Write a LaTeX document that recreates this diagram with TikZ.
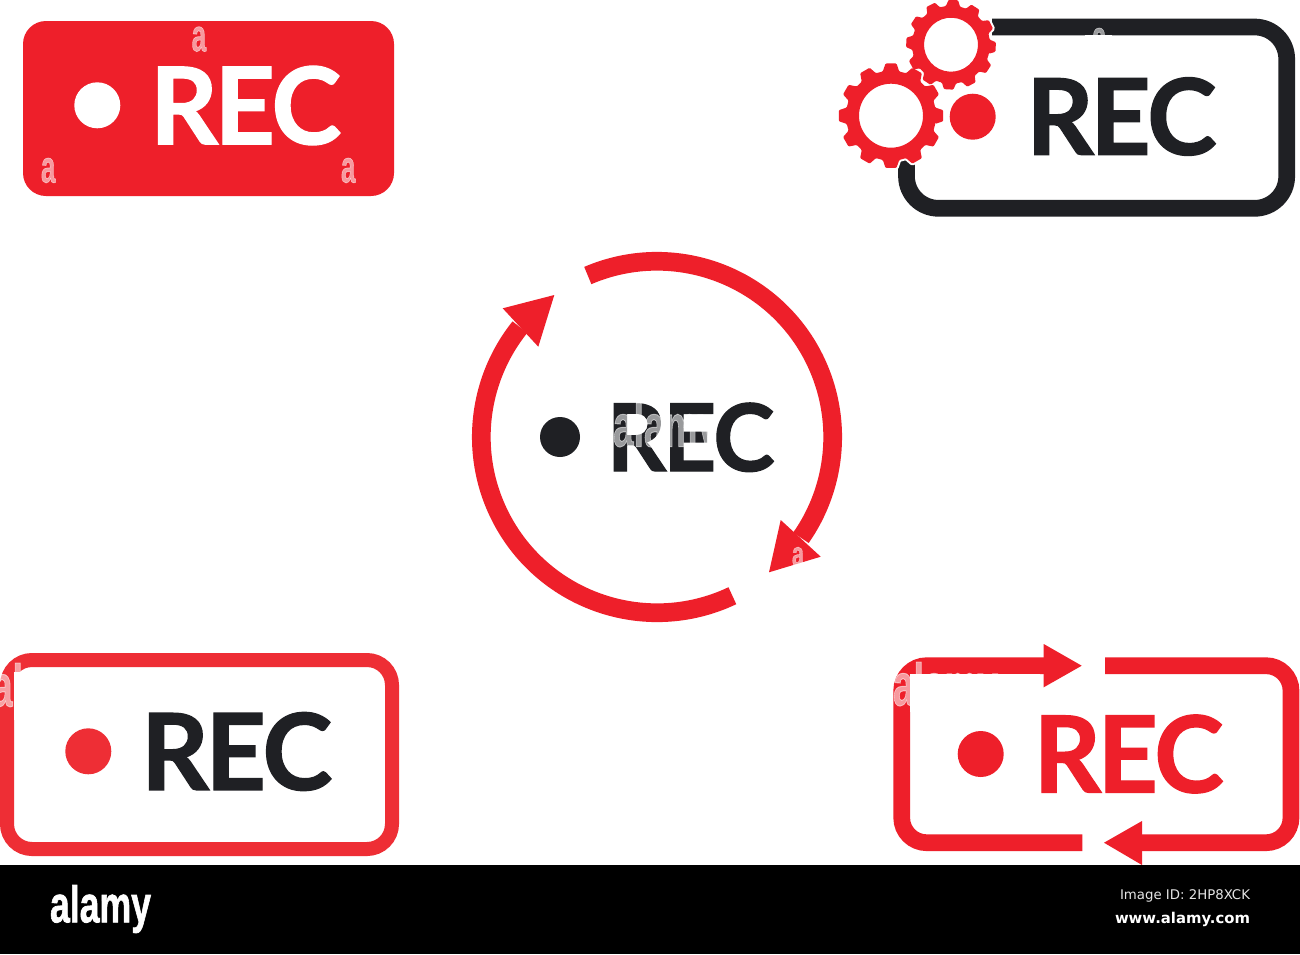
\documentclass[tikz,border=0pt]{standalone}
\usepackage{fontspec}
\usepackage{graphicx}
\newfontfamily\recfont{Lato}[BoldFeatures={FakeBold=1.2}]
\newfontfamily\wmfont{Liberation Sans}[BoldFeatures={FakeBold=1.5}]
\newfontfamily\idfont{DejaVu Sans}
\definecolor{recred}{HTML}{EE1F2A}
\definecolor{recred2}{HTML}{EE2E35}
\definecolor{recdark}{HTML}{1F2024}
\newcommand{\recword}[2]{\resizebox*{#1pt}{#2pt}{\recfont\bfseries\kern-.055em R\kern-.035em E\kern-.035em C\kern-.005em}}
\newcommand{\wmword}[3]{\resizebox*{#1pt}{#2pt}{\wmfont\bfseries #3}}
\newcommand{\gearshape}[7]{% cx cy root outer hole rot style
  \path[#7,shift={(#1,#2)},rotate=#6,rounded corners=1pt,even odd rule]
    (-10.5:#3)
    \foreach \t in {0,30,...,330}{
      -- (\t-10.5:#3) -- (\t-6:#4) -- (\t+6:#4) -- (\t+10.5:#3)
    } -- cycle (0,0) circle[radius=#5];}
\tikzset{
  x=1pt,y=1pt,
  txt/.style={inner sep=0pt,outer sep=0pt},
  frame/.style={line width=16.7pt,line cap=butt},
  wm/.style={txt,anchor=north west,text=white,text opacity=.55},
}
\begin{document}
\begin{tikzpicture}
\useasboundingbox (0,-954) rectangle (1300,0);
\fill[white] (0,-954) rectangle (1300,0);
% top-left
\fill[recred,rounded corners=23pt] (23,-21) rectangle (394,-196);
\fill[white] (97.3,-105.3) circle[radius=23];
\node[txt,text=white] (tl) at (248.3,-105.5) {\recword{184.7}{79}};
\node[wm] (wa1) at (191.7,-26.7) {\wmword{14.5}{25}{a}};
\node[wm] (wa2) at (41,-158) {\wmword{14.5}{25}{a}};
\node[wm] (wa3) at (341,-158) {\wmword{14.5}{25}{a}};
% top-right
\draw[recdark,frame,rounded corners=32pt]
  (906.5,-160) -- (906.5,-208.3) -- (1286.7,-208.3) -- (1286.7,-27) -- (992,-27);
\fill[recred] (972.7,-116.7) circle[radius=23];
\node[txt,text=recdark] (tr) at (1124,-116.5) {\recword{184}{78}};
\node[wm] (wa4) at (1092,-28) {\wmword{14.5}{25}{a}};
\fill[white] (1085,-35.4) rectangle (1112,-60);
\gearshape{951}{-44.7}{39}{45}{27}{-3}{draw=white,line width=4pt,fill=white}
\gearshape{891}{-115.7}{45}{52.5}{32}{0}{draw=white,line width=4pt,fill=white}
\gearshape{951}{-44.7}{39}{45}{27}{-3}{fill=recred}
\gearshape{891}{-115.7}{45}{52.5}{32}{0}{fill=recred}
% centre
\begin{scope}[shift={(657,-437)}]
\draw[recred,line width=18.7pt] (113.2:175.7) arc[start angle=113.2,end angle=-35,radius=175.7];
\draw[recred,line width=18.7pt] (-64.6:175.7) arc[start angle=-64.6,end angle=-218.7,radius=175.7];
\end{scope}
\fill[recred] (780.7,-520) -- (769,-572.3) -- (820.7,-556.7) -- cycle;
\fill[recred] (538.3,-346.7) -- (554.3,-295) -- (502.7,-308.3) -- cycle;
\fill[recdark] (560,-437) circle[radius=20];
\node[txt,text=recdark] (ctr) at (692.9,-437.3) {\recword{162.3}{69}};
\node[wm] (wc) at (613,-403) {\wmword{105}{56}{alamy}};
\node[wm] (wa5) at (792,-547) {\wmword{12}{19}{a}};
% bottom-left
\draw[recred2,line width=14pt,rounded corners=25pt] (7,-660) rectangle (392,-849);
\fill[recred2] (88.3,-751.3) circle[radius=23];
\node[txt,text=recdark] (bl) at (239.3,-751.5) {\recword{184.7}{78.4}};
\begin{scope}
\clip (0,-640) rectangle (26.5,-720);
\node[wm] (wbl) at (-8,-663) {\wmword{105}{56}{alamy}};
\end{scope}
\fill[white] (14.3,-672) rectangle (40,-720);
% bottom-right
\draw[recred,frame,rounded corners=25pt]
  (1050,-665.7) -- (901.7,-665.7) -- (901.7,-842.7) -- (1082.3,-842.7);
\fill[recred] (1043.7,-644) -- (1081.7,-665.7) -- (1043.7,-687.3) -- cycle;
\draw[recred,frame,rounded corners=25pt]
  (1105,-665.7) -- (1291,-665.7) -- (1291,-842.7) -- (1136,-842.7);
\fill[recred] (1142,-821) -- (1104,-842.7) -- (1142,-865) -- cycle;
\fill[recred] (980.7,-754) circle[radius=23];
\node[txt,text=recred] (br) at (1131.2,-754) {\recword{183.7}{78.4}};
\begin{scope}
\clip (893,-655) rectangle (1000,-710);
\node[wm] (wbr) at (893,-662) {\wmword{105}{56}{alamy}};
\end{scope}
\fill[white] (910,-674) rectangle (1040,-712);
% footer
\fill[black] (0,-865) rectangle (1300,-954);
\node[txt,anchor=north west,text=white] (logo) at (50,-885) {\wmword{101}{48}{alamy}};
\node[txt,anchor=north east,text=white!90!black] (imgid) at (1250,-890) {\resizebox{130pt}{!}{\idfont Image ID: 2HP8XCK}};
\node[txt,anchor=north east,text=white] (www) at (1250,-912) {\resizebox{135pt}{!}{\idfont\bfseries www.alamy.com}};
\end{tikzpicture}
\end{document}
